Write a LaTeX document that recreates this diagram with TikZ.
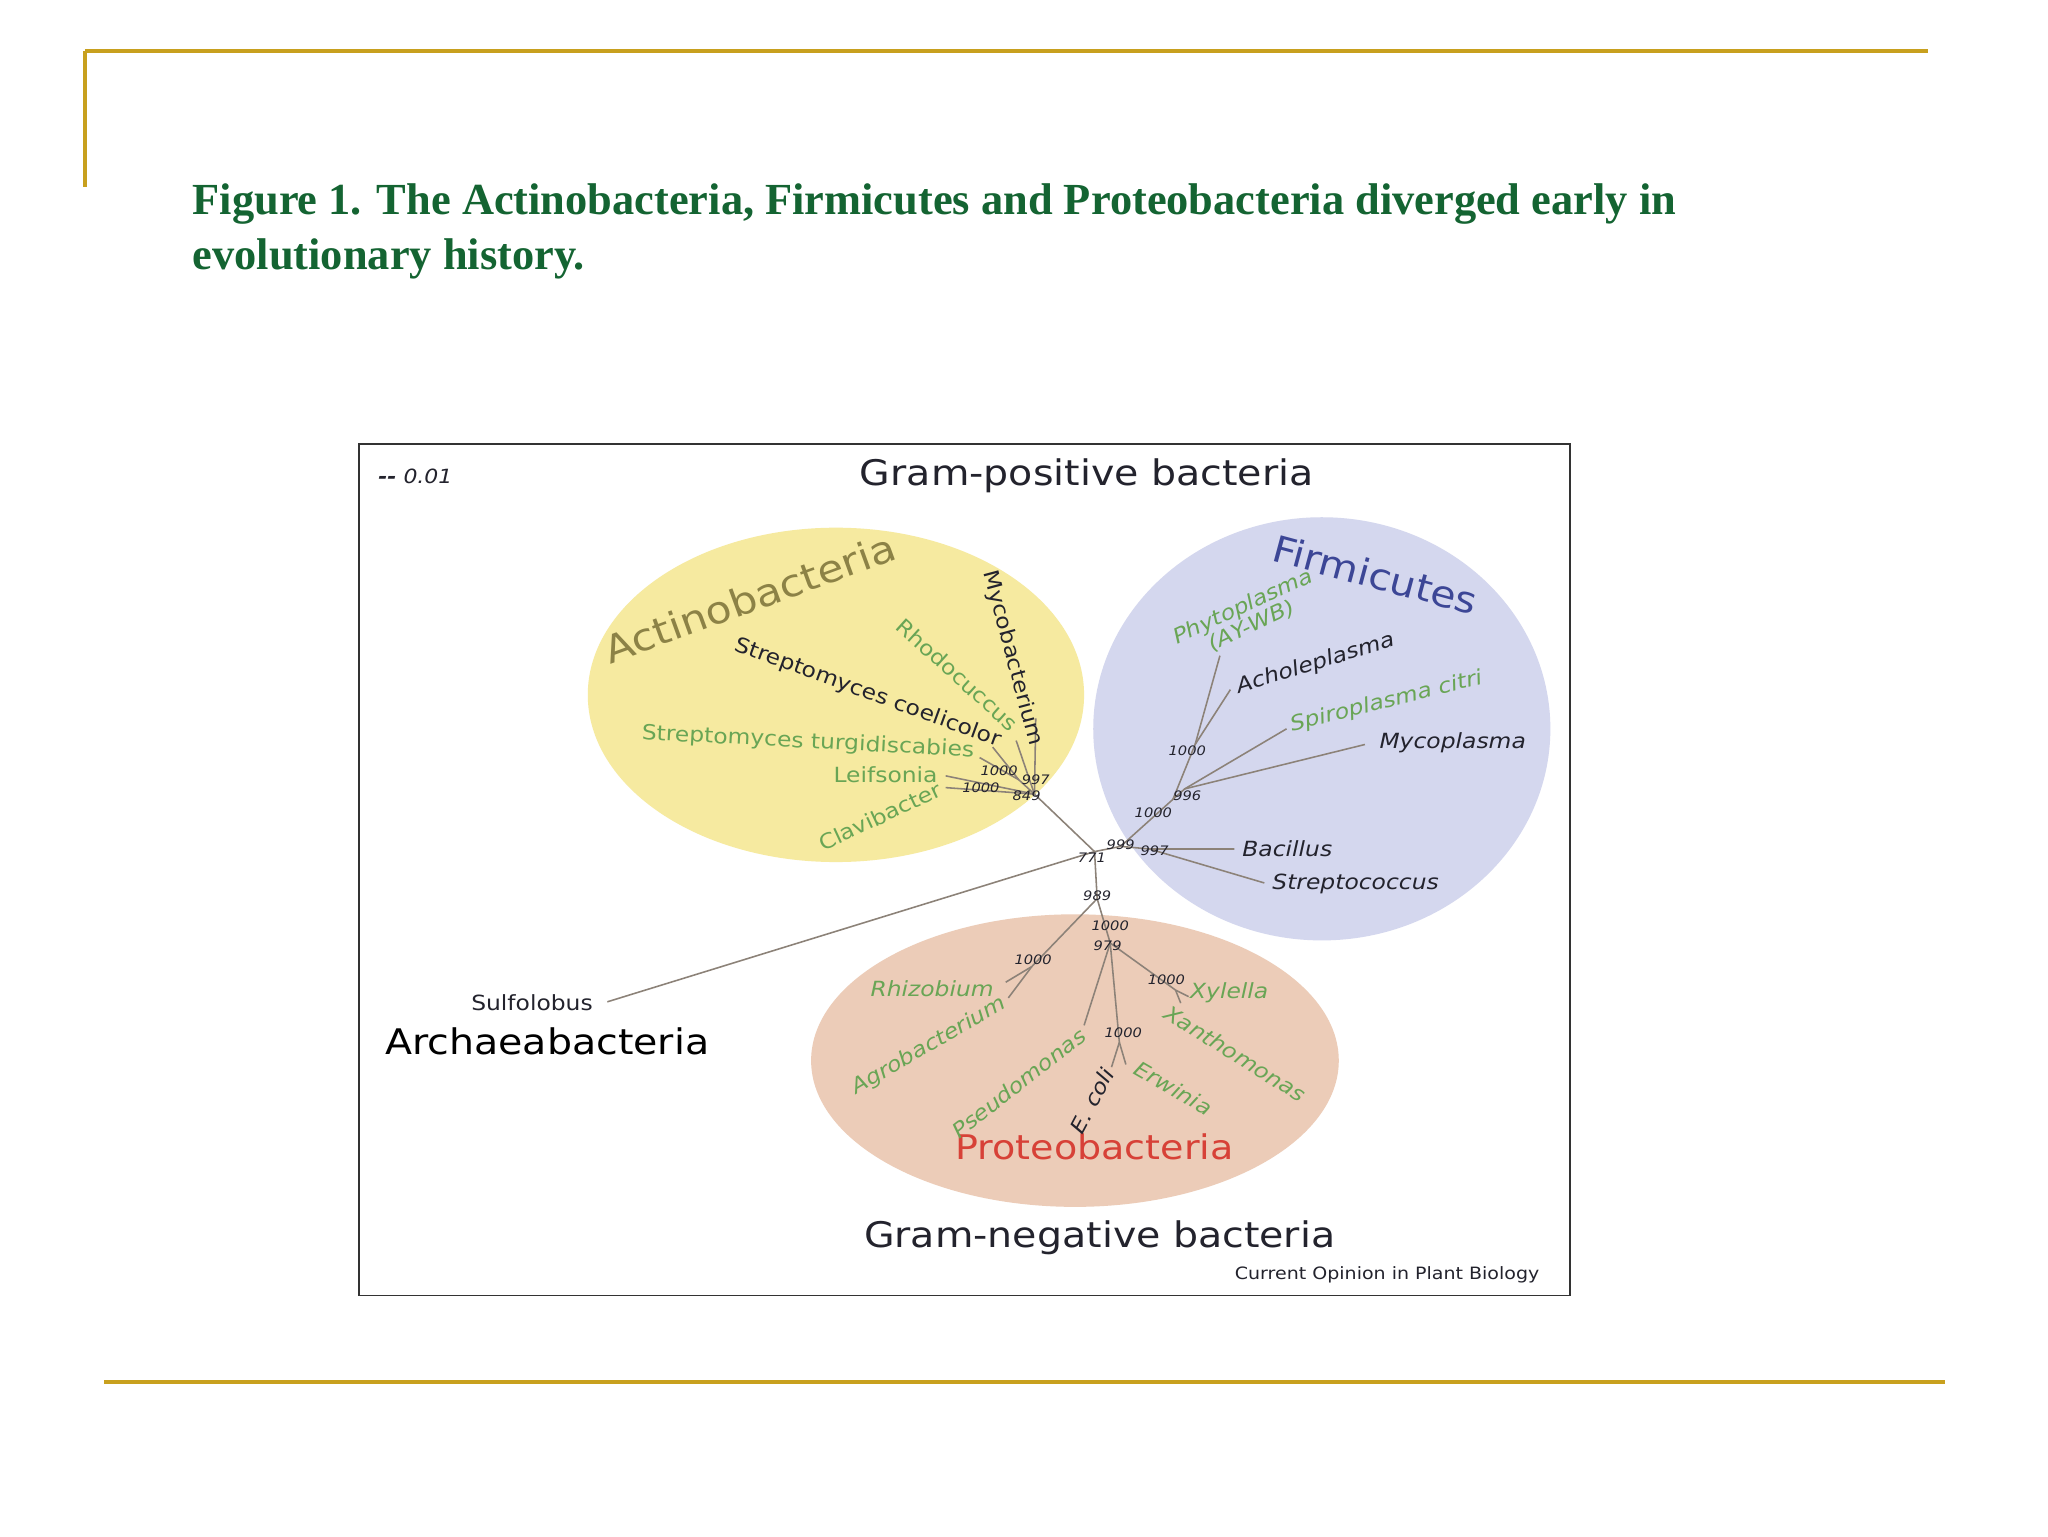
\documentclass[tikz,border=0pt]{standalone}
\usepackage{fontspec}
\setmainfont{Liberation Serif}
\newfontfamily\vf[FakeStretch=1.12]{DejaVu Sans}
\newcommand\fsz[1]{\fontsize{#1}{#1}\selectfont}
\definecolor{gold}{RGB}{200,160,30}
\definecolor{titlegreen}{RGB}{20,100,50}
\definecolor{lg}{RGB}{105,165,85}
\definecolor{dk}{RGB}{35,35,45}
\definecolor{yel}{RGB}{246,234,160}
\definecolor{blu}{RGB}{212,215,238}
\definecolor{ora}{RGB}{236,204,184}
\definecolor{br}{RGB}{140,130,120}
\definecolor{olive}{RGB}{140,130,70}
\definecolor{fblue}{RGB}{60,70,150}
\definecolor{pred}{RGB}{215,65,55}
\tikzset{
 lab/.style={font=\vf\itshape\fsz{16}, inner sep=1pt},
 ulab/.style={font=\vf\fsz{16}, inner sep=1pt},
 glab/.style={lab, text=lg},
 blab/.style={lab, text=dk},
 gulab/.style={ulab, text=lg},
 bulab/.style={ulab, text=dk},
 boot/.style={font=\vf\itshape\fsz{10}, text=dk, inner sep=0pt},
 br/.style={draw=br, line width=1.2pt},
 big/.style={font=\vf\fsz{27}, text=dk}
}
\begin{document}
\begin{tikzpicture}[x=1pt,y=-1pt]
\useasboundingbox (0,0) rectangle (1568,1176);
\fill[white] (0,0) rectangle (1568,1176);
% frame lines
\draw[gold, line width=2.5pt] (65,39) -- (1476,39);
\draw[gold, line width=2.5pt] (65,39) -- (65,143);
\draw[gold, line width=2.5pt] (80,1058) -- (1489,1058);
\node[anchor=west, text=titlegreen, font=\bfseries\fontsize{34}{42}\selectfont, align=left] (title) at (144,177) {Figure 1. The Actinobacteria, Firmicutes and Proteobacteria diverged early in\\evolutionary history.};
\draw[black!80, line width=1.2pt] (275,340) rectangle (1202,992);
% ellipses
\fill[yel] (640,532) ellipse [x radius=190, y radius=128];
\fill[blu] (1012,558) ellipse [x radius=175, y radius=162];
\fill[ora] (823,812) ellipse [x radius=202, y radius=112];
% coordinates
\coordinate (C) at (838,652);
\coordinate (A) at (792,608);
\coordinate (A2) at (780,597);
\coordinate (myco) at (793,550);
\coordinate (rhod) at (778,567);
\coordinate (scoe) at (760,572);
\coordinate (stur) at (750,580);
\coordinate (leif) at (724,594);
\coordinate (clav) at (724,603);
\coordinate (F0) at (858,648);
\coordinate (F1) at (880,650);
\coordinate (bac) at (945,650);
\coordinate (strep) at (968,676);
\coordinate (F2) at (898,612);
\coordinate (F3) at (907,604);
\coordinate (mycop) at (1045,570);
\coordinate (spiro) at (985,558);
\coordinate (F4) at (915,570);
\coordinate (achol) at (942,528);
\coordinate (phyto) at (934,502);
\coordinate (P0) at (840,688);
\coordinate (P1) at (790,740);
\coordinate (rhiz) at (770,752);
\coordinate (agro) at (772,764);
\coordinate (P2) at (850,722);
\coordinate (pseu) at (830,785);
\coordinate (P3) at (857,798);
\coordinate (ecol) at (851,817);
\coordinate (erw) at (862,815);
\coordinate (P4) at (900,758);
\coordinate (xyl) at (910,763);
\coordinate (xan) at (904,768);
\coordinate (sulf) at (465,767);
% branches
\draw[br] (sulf) -- (C);
\draw[br] (C) -- (A) -- (myco);
\draw[br] (A) -- (rhod);
\draw[br] (A) -- (A2) -- (scoe);
\draw[br] (A2) -- (stur);
\draw[br] (A) -- (leif);
\draw[br] (A) -- (clav);
\draw[br] (C) -- (F0) -- (F1) -- (bac);
\draw[br] (F1) -- (strep);
\draw[br] (F0) -- (F2) -- (F3) -- (mycop);
\draw[br] (F3) -- (spiro);
\draw[br] (F2) -- (F4) -- (achol);
\draw[br] (F4) -- (phyto);
\draw[br] (C) -- (P0) -- (P1) -- (rhiz);
\draw[br] (P1) -- (agro);
\draw[br] (P0) -- (P2) -- (pseu);
\draw[br] (P2) -- (P3) -- (ecol);
\draw[br] (P3) -- (erw);
\draw[br] (P2) -- (P4) -- (xyl);
\draw[br] (P4) -- (xan);
% bootstrap
\node[boot] (b1) at (765,590) {1000};
\node[boot] (b2) at (793,597) {997};
\node[boot] (b3) at (751,603) {1000};
\node[boot] (b4) at (786,609) {849};
\node[boot] (b5) at (836,657) {771};
\node[boot] (b6) at (858,647) {999};
\node[boot] (b7) at (884,651) {997};
\node[boot] (b8) at (883,622) {1000};
\node[boot] (b9) at (909,609) {996};
\node[boot] (b10) at (909,575) {1000};
\node[boot] (b11) at (840,686) {989};
\node[boot] (b12) at (850,709) {1000};
\node[boot] (b13) at (848,724) {979};
\node[boot] (b14) at (791,735) {1000};
\node[boot] (b15) at (893,750) {1000};
\node[boot] (b16) at (860,791) {1000};
% labels
\node[font=\vf\itshape\fsz{15}, text=dk] (scale) at (318,365) {\textbf{--} 0.01};
\node[big] (gp) at (832,364) {Gram-positive bacteria};
\node[big] (gn) at (842,948) {Gram-negative bacteria};
\node[font=\vf\fsz{13}, text=dk] (cop) at (1062,976) {Current Opinion in Plant Biology};
\node[font=\vf\fsz{29}, text=olive, rotate=20] (actino) at (574,458) {Actinobacteria};
\node[font=\vf\fsz{28}, text=fblue, rotate=-15] (firm) at (1053,440) {Firmicutes};
\node[font=\vf\fsz{26}, text=pred] (proteo) at (838,878) {Proteobacteria};
\node[font=\vf\fsz{27}, text=black] (arch) at (419,797) {Archaeabacteria};
\node[bulab, anchor=east] (sulfl) at (455,768) {Sulfolobus};
\node[bulab, rotate=-75, anchor=west] (mycol) at (757,436) {Mycobacterium};
\node[gulab, rotate=-42, anchor=east] (rhodl) at (778,557) {Rhodocuccus};
\node[bulab, rotate=-20, anchor=east] (scoel) at (767,568) {Streptomyces coelicolor};
\node[gulab, rotate=-3, anchor=east] (sturl) at (747,575) {Streptomyces turgidiscabies};
\node[gulab, anchor=east] (leifl) at (719,593) {Leifsonia};
\node[gulab, rotate=25, anchor=east] (clavl) at (721,603) {Clavibacter};
\node[glab, rotate=25, align=center] (phytol) at (955,472) {Phytoplasma\\(AY-WB)};
\node[blab, rotate=17, anchor=west] (acholl) at (946,527) {Acholeplasma};
\node[glab, rotate=14, anchor=west] (spirol) at (987,556) {Spiroplasma citri};
\node[blab, anchor=west] (mycopl) at (1055,569) {Mycoplasma};
\node[blab, anchor=west] (bacl) at (950,650) {Bacillus};
\node[blab, anchor=west] (strepl) at (973,677) {Streptococcus};
\node[glab, anchor=east] (rhizl) at (762,757) {Rhizobium};
\node[glab, rotate=30, anchor=east] (agrol) at (770,767) {Agrobacterium};
\node[glab, rotate=38, anchor=east] (pseul) at (830,790) {Pseudomonas};
\node[blab, rotate=62, anchor=east] (ecoll) at (849,818) {E. coli};
\node[glab, rotate=-30, anchor=west] (erwl) at (869,816) {Erwinia};
\node[glab, anchor=west] (xyll) at (910,760) {Xylella};
\node[glab, rotate=-32, anchor=west] (xanl) at (892,773) {Xanthomonas};
\end{tikzpicture}
\end{document}
